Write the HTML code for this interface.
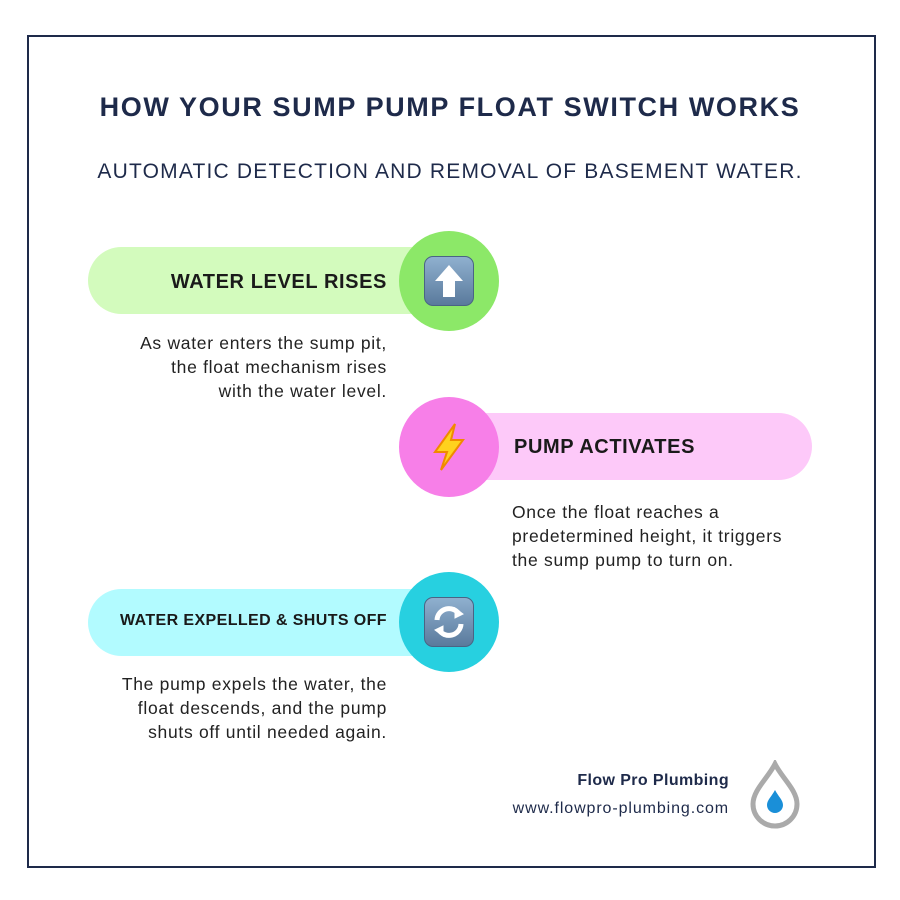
<!DOCTYPE html>
<html><head><style>
body{margin:0;width:900px;height:900px;background:#fff;position:relative;font-family:"Liberation Sans",sans-serif;color:#1e2a4a;overflow:hidden}
.frame{position:absolute;left:27px;top:35px;width:845px;height:829px;border:2px solid #1e2a4a}
.abs{position:absolute}
.pill{position:absolute;height:67px;border-radius:34px}
.circ{position:absolute;width:100px;height:100px;border-radius:50%}
.ic{position:absolute;left:25px;top:25px;width:50px;height:50px;border-radius:9px;background:linear-gradient(#8fb0cf,#5a7a9c);border:1px solid #4a6484;box-sizing:border-box}
.lab{position:absolute;font-weight:bold;color:#1a1a1a;font-size:20px;letter-spacing:0.6px}
.desc{position:absolute;font-size:17.5px;line-height:24px;color:#222;letter-spacing:0.7px}
</style></head><body>
<div class="frame"></div>
<div class="abs" style="left:0;width:900px;top:92px;text-align:center;font-size:27px;font-weight:bold;letter-spacing:1.6px">HOW YOUR SUMP PUMP FLOAT SWITCH WORKS</div>
<div class="abs" style="left:0;width:900px;top:160px;text-align:center;font-size:21px;letter-spacing:1.2px">AUTOMATIC DETECTION AND REMOVAL OF BASEMENT WATER.</div>

<div class="pill" style="left:88px;top:247px;width:380px;background:#d3fbbd"></div>
<div class="lab" style="left:88px;width:299px;top:271px;text-align:right">WATER LEVEL RISES</div>
<div class="circ" style="left:399px;top:231px;background:#8ce868"><div class="ic"><svg width="48" height="48" viewBox="0 0 48 48"><path d="M24 8 L38 24 L30 24 L30 40 L18 40 L18 24 L10 24 Z" fill="#fff"/></svg></div></div>
<div class="desc" style="left:40px;width:347px;top:331px;text-align:right">As water enters the sump pit,<br>the float mechanism rises<br>with the water level.</div>

<div class="pill" style="left:430px;top:413px;width:382px;background:#fdc9f9"></div>
<div class="circ" style="left:399px;top:397px;background:#f77fe8"><svg style="position:absolute;left:30px;top:25px" width="40" height="50" viewBox="0 0 40 50"><path d="M26 2 L6 30 L18 30 L12 48 L34 18 L22 18 Z" fill="#ffd21e" stroke="#f08a00" stroke-width="2"/></svg></div>
<div class="lab" style="left:514px;top:436px">PUMP ACTIVATES</div>
<div class="desc" style="left:512px;top:500px">Once the float reaches a<br>predetermined height, it triggers<br>the sump pump to turn on.</div>

<div class="pill" style="left:88px;top:589px;width:380px;background:#b2fbff"></div>
<div class="lab" style="left:88px;width:299px;top:612px;text-align:right;font-size:16px;letter-spacing:0.4px">WATER EXPELLED &amp; SHUTS OFF</div>
<div class="circ" style="left:399px;top:572px;background:#27d0e0"><div class="ic"><svg width="48" height="48" viewBox="0 0 48 48" fill="none" stroke="#fff" stroke-width="5"><path d="M12 22 A12 12 0 0 1 34 16"/><path d="M36 26 A12 12 0 0 1 14 32"/><path d="M30 10 L38 16 L30 20 Z" fill="#fff" stroke-width="1"/><path d="M18 38 L10 32 L18 28 Z" fill="#fff" stroke-width="1"/></svg></div></div>
<div class="desc" style="left:40px;width:347px;top:672px;text-align:right">The pump expels the water, the<br>float descends, and the pump<br>shuts off until needed again.</div>

<div class="abs" style="left:400px;width:329px;top:772px;text-align:right;font-weight:bold;font-size:16px;letter-spacing:0.4px">Flow Pro Plumbing</div>
<div class="abs" style="left:400px;width:329px;top:800px;text-align:right;font-size:16px;letter-spacing:0.9px">www.flowpro-plumbing.com</div>
<svg class="abs" style="left:748px;top:760px" width="54" height="70" viewBox="0 0 54 70"><path d="M27 4 C20 18 5 30 5 44 A22 22 0 0 0 49 44 C49 30 34 18 27 4 Z" fill="#fff" stroke="#aaa" stroke-width="5"/><path d="M27 30 C24 36 19 40 19 45 A8 8 0 0 0 35 45 C35 40 30 36 27 30 Z" fill="#1a8fd8"/></svg>
</body></html>
